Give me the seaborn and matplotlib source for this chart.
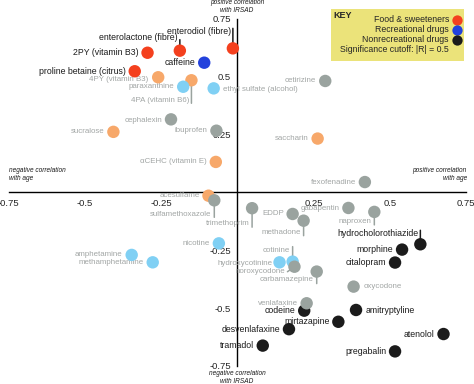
"""
Metabolite correlations with age and IRSAD
==========================================
Scatter of each compound's correlation with age (x) and IRSAD (y).
"""

import pandas as pd
import matplotlib.pyplot as plt
import seaborn as sns
from matplotlib.patches import Rectangle

sns.set_style("white")
plt.rcParams["font.family"] = ["Liberation Sans", "DejaVu Sans"]

COMPOUNDS = [
    "2PY (vitamin B3)", "enterolactone (fibre)", "enterodiol (fibre)", "caffeine",
    "proline betaine (citrus)", "4PY (vitamin B3)", "4PA (vitamin B6)", "paraxanthine",
    "ethyl sulfate (alcohol)", "cephalexin", "ibuprofen", "sucralose",
    "αCEHC (vitamin E)", "acesulfame", "sulfamethoxazole", "trimethoprim",
    "nicotine", "cetirizine", "saccharin", "fexofenadine",
    "EDDP", "gabapentin", "methadone", "naproxen",
    "hydrocholorothiazide", "morphine", "citalopram", "oxycodone",
    "amitryptyline", "atenolol", "pregabalin", "mirtazapine",
    "codeine", "venlafaxine", "desvenlafaxine", "tramadol",
    "cotinine", "hydroxycotinine", "noroxycodone", "carbamazepine",
    "amphetamine", "methamphetamine",
]
R_AGE = [
    -0.295, -0.189, -0.015, -0.109,
    -0.337, -0.260, -0.151, -0.178,
    -0.078, -0.218, -0.069, -0.407,
    -0.071, -0.095, -0.076, 0.048,
    -0.061, 0.288, 0.263, 0.418,
    0.181, 0.364, 0.217, 0.449,
    0.600, 0.540, 0.517, 0.381,
    0.389, 0.676, 0.517, 0.331,
    0.219, 0.227, 0.169, 0.083,
    0.181, 0.138, 0.187, 0.260,
    -0.347, -0.278,
]
R_IRSAD = [
    0.604, 0.613, 0.623, 0.561,
    0.524, 0.498, 0.485, 0.457,
    0.450, 0.316, 0.267, 0.262,
    0.132, -0.014, -0.034, -0.068,
    -0.220, 0.482, 0.233, 0.045,
    -0.093, -0.067, -0.122, -0.084,
    -0.224, -0.247, -0.303, -0.407,
    -0.508, -0.612, -0.687, -0.559,
    -0.511, -0.479, -0.591, -0.662,
    -0.299, -0.302, -0.321, -0.342,
    -0.270, -0.302,
]
GROUP = [
    "food", "food", "food", "rec",
    "food", "food_ns", "food_ns", "rec_ns",
    "rec_ns", "nonrec_ns", "nonrec_ns", "food_ns",
    "food_ns", "food_ns", "nonrec_ns", "nonrec_ns",
    "rec_ns", "nonrec_ns", "food_ns", "nonrec_ns",
    "nonrec_ns", "nonrec_ns", "nonrec_ns", "nonrec_ns",
    "nonrec", "nonrec", "nonrec", "nonrec_ns",
    "nonrec", "nonrec", "nonrec", "nonrec",
    "nonrec", "nonrec_ns", "nonrec", "nonrec",
    "rec_ns", "rec_ns", "nonrec_ns", "nonrec_ns",
    "rec_ns", "rec_ns",
]

PALETTE = {
    "food": "#f4401e", "rec": "#2342dc", "nonrec": "#1b1b1b",
    "food_ns": "#f7a86a", "rec_ns": "#80d0f4", "nonrec_ns": "#9aa39f",
}
LEGEND_ITEMS = [("Food & sweeteners", "food"), ("Recreational drugs", "rec"),
                ("Nonrecreational drugs", "nonrec")]
TICKS = [-0.75, -0.5, -0.25, 0.25, 0.5, 0.75]
TICK_LABELS = ["-0.75", "-0.5", "-0.25", "0.25", "0.5", "0.75"]

# label placement: (ha, dx px, dy px, leader line end offset px or None)
LABEL_POS = {
    "enterolactone (fibre)": ("right", -2, 13, (0, 11)),
    "enterodiol (fibre)": ("right", -2, 17, (0, 20)),
    "4PA (vitamin B6)": ("right", -2, -20, (0, -23)),
    "ethyl sulfate (alcohol)": ("left", 9, -1, None),
    "sulfamethoxazole": ("right", -3, -14, (0, -17)),
    "trimethoprim": ("right", -2, -15, (0, -19)),
    "gabapentin": ("right", -9, -1, None),
    "methadone": ("right", -3, -12, (0, -15)),
    "naproxen": ("right", -3, -10, (0, -13)),
    "hydrocholorothiazide": ("right", -2, 11, (0, 14)),
    "oxycodone": ("left", 10, 0, None),
    "amitryptyline": ("left", 10, -1, None),
    "cotinine": ("right", -3, 11, (0, 15)),
    "hydroxycotinine": ("right", -7, -1, None),
    "noroxycodone": ("right", -9, -5, (-7, -5)),
    "carbamazepine": ("right", -3, -8, (0, -12)),
    "4PY (vitamin B3)": ("right", -10, -2, None),
    "cephalexin": ("right", -9, -1, None),
}

df = pd.DataFrame({"compound": COMPOUNDS, "r_age": R_AGE,
                   "r_irsad": R_IRSAD, "group": GROUP})

fig = plt.figure(figsize=(4.74, 3.84), dpi=100)
ax = fig.add_axes([0, 0, 1, 1])
ax.set_xlim(-0.779, 0.776)
ax.set_ylim(-0.828, 0.832)

sns.scatterplot(data=df, x="r_age", y="r_irsad", hue="group", palette=PALETTE,
                s=80, linewidth=0, legend=False, ax=ax, zorder=4)

for _, row in df.iterrows():
    sig = not row["group"].endswith("_ns")
    xy = (row["r_age"], row["r_irsad"])
    ha, dx, dy, leader = LABEL_POS.get(row["compound"], ("right", -9, 0, None))
    ax.annotate(row["compound"], xy, xytext=(dx, dy), textcoords="offset pixels",
                ha=ha, va="center", fontsize=6.3 if sig else 5.7,
                color="#1b1b1b" if sig else "#a2a6a5", zorder=3)
    if leader is not None:
        line_col = "#1b1b1b" if sig else "#9aa39f"
        ax.annotate("", xy, xytext=leader, textcoords="offset pixels",
                    arrowprops=dict(arrowstyle="-", color=line_col, lw=1.1,
                                    shrinkA=0, shrinkB=0), zorder=3)

# axes through the origin
for side in ["top", "right"]:
    ax.spines[side].set_visible(False)
for side in ["left", "bottom"]:
    ax.spines[side].set_position(("data", 0))
    ax.spines[side].set_bounds(-0.75, 0.75)
    ax.spines[side].set_linewidth(1.0)
    ax.spines[side].set_color("black")
ax.set_xticks(TICKS, TICK_LABELS)
ax.set_yticks(TICKS, TICK_LABELS)
ax.tick_params(direction="inout", length=7, width=1.0, labelsize=6.8, pad=1)
ax.set_xlabel("")
ax.set_ylabel("")

note = dict(fontsize=4.7, style="italic", color="#1b1b1b", linespacing=1.1)
ax.text(0.02, 0.545, "negative correlation\nwith age", transform=ax.transAxes,
        ha="left", va="center", **note)
ax.text(0.985, 0.545, "positive correlation\nwith age", transform=ax.transAxes,
        ha="right", va="center", multialignment="right", **note)
ax.text(0.5, 0.983, "positive correlation\nwith IRSAD", transform=ax.transAxes,
        ha="center", va="center", multialignment="center", **note)
ax.text(0.5, 0.017, "negative correlation\nwith IRSAD", transform=ax.transAxes,
        ha="center", va="center", multialignment="center", **note)

# key box
ax.add_patch(Rectangle((0.698, 0.841), 0.281, 0.136, transform=ax.transAxes,
                       facecolor="#ebe37a", edgecolor="none", zorder=5))
ax.text(0.703, 0.972, "KEY", transform=ax.transAxes, ha="left", va="top",
        fontsize=6.5, fontweight="bold", zorder=6)
rows_y = [0.948, 0.922, 0.896]
for (label, grp), yy in zip(LEGEND_ITEMS, rows_y):
    ax.text(0.947, yy, label, transform=ax.transAxes, ha="right", va="center",
            fontsize=6.3, zorder=6)
    ax.scatter([0.965], [yy], transform=ax.transAxes, s=55, color=PALETTE[grp],
               linewidth=0, zorder=6, clip_on=False)
ax.text(0.947, 0.872, "Significance cutoff: |R| = 0.5", transform=ax.transAxes,
        ha="right", va="center", fontsize=6.3, zorder=6)

fig.savefig("out.png", dpi=100)
